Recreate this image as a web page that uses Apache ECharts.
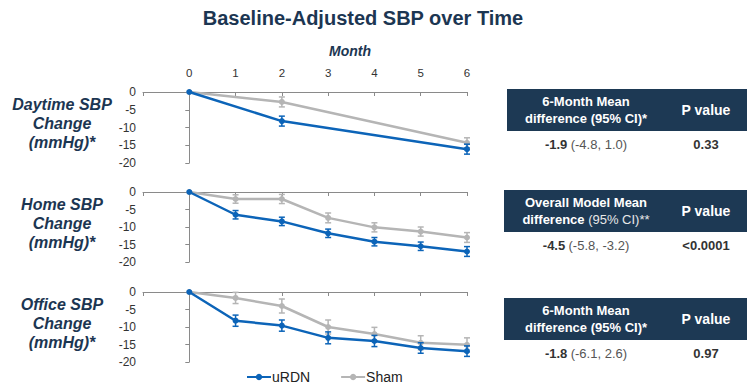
<!DOCTYPE html>
<html>
<head>
<meta charset="utf-8">
<script src="https://cdn.jsdelivr.net/npm/echarts@6/dist/echarts.min.js"></script>
<style>html,body{margin:0;padding:0;background:#fff}#c{width:749px;height:386px}</style>
</head>
<body>
<div id="c"></div>
<script>
// ---- data ----
const monthTicks = [0, 1, 2, 3, 4, 5, 6];
const daytimeMonths = [0, 2, 6];
const daytimeURDN = [0, -8.2, -16.1];
const daytimeSham = [0, -2.8, -14.3];
const daytimeErrURDN = [0, 1.4, 1.4];
const daytimeErrSham = [0, 1.4, 1.4];
const allMonths = [0, 1, 2, 3, 4, 5, 6];
const homeURDN = [0, -6.5, -8.4, -11.8, -14.2, -15.5, -17.0];
const homeSham = [0, -2.0, -2.0, -7.4, -10.1, -11.3, -13.0];
const homeErrURDN = [0, 1.2, 1.2, 1.2, 1.2, 1.2, 1.4];
const homeErrSham = [0, 1.2, 1.3, 1.4, 1.3, 1.3, 1.4];
const officeURDN = [0, -8.2, -9.6, -13.1, -14.0, -16.0, -16.9];
const officeSham = [0, -1.7, -4.0, -10.0, -12.0, -14.5, -15.1];
const officeErrURDN = [0, 1.6, 1.6, 1.7, 1.6, 1.5, 1.5];
const officeErrSham = [0, 1.6, 2.0, 2.0, 1.9, 2.0, 2.0];
const panelNames = [['Daytime SBP', 'Change', '(mmHg)*'], ['Home SBP', 'Change', '(mmHg)*'], ['Office SBP', 'Change', '(mmHg)*']];
const tableHeads = [
  ['6-Month Mean', 'difference (95% CI)*', true],
  ['Overall Model Mean', 'difference (95% CI)**', false],
  ['6-Month Mean', 'difference (95% CI)*', true]
];
const tableEst = [['-1.9', '(-4.8, 1.0)', '0.33'], ['-4.5', '(-5.8, -3.2)', '<0.0001'], ['-1.8', '(-6.1, 2.6)', '0.97']];

// ---- style ----
const FONT = '"Liberation Sans", Arial, sans-serif';
const NAVY = '#1c3652';
const BLUE = '#0c64b8';
const GRAY = '#b5b5b5';
const AXIS = '#8a8a8a';

const panels = [
  { months: daytimeMonths, u: daytimeURDN, s: daytimeSham, eu: daytimeErrURDN, es: daytimeErrSham },
  { months: allMonths, u: homeURDN, s: homeSham, eu: homeErrURDN, es: homeErrSham },
  { months: allMonths, u: officeURDN, s: officeSham, eu: officeErrURDN, es: officeErrSham }
];
const gridTops = [92, 192, 292];
const gridH = [71, 70, 70];

const grids = [], xAxes = [], yAxes = [], series = [], graphics = [];

function errSeries(i, months, vals, errs, color) {
  return {
    type: 'custom', xAxisIndex: i, yAxisIndex: i, z: color === GRAY ? 4 : 6,
    data: months.map((m, k) => [m, vals[k], errs[k]]),
    renderItem: function (params, api) {
      const x = api.value(0), y = api.value(1), e = api.value(2);
      if (!e) return null;
      const top = api.coord([x, y + e]);
      const bot = api.coord([x, y - e]);
      const w = 3;
      const st = { stroke: color, lineWidth: 1.5 };
      return {
        type: 'group', children: [
          { type: 'line', shape: { x1: top[0], y1: top[1], x2: bot[0], y2: bot[1] }, style: st },
          { type: 'line', shape: { x1: top[0] - w, y1: top[1], x2: top[0] + w, y2: top[1] }, style: st },
          { type: 'line', shape: { x1: bot[0] - w, y1: bot[1], x2: bot[0] + w, y2: bot[1] }, style: st }
        ]
      };
    },
    silent: true
  };
}

panels.forEach((p, i) => {
  grids.push({ left: 143, top: gridTops[i], width: 324, height: gridH[i] });
  xAxes.push({
    type: 'value', gridIndex: i, position: 'top', min: -1, max: 6, interval: 1,
    axisLine: { show: true, lineStyle: { color: AXIS, width: 1 } },
    axisTick: { show: true, inside: true, length: 4, lineStyle: { color: AXIS } },
    splitLine: { show: false },
    axisLabel: {
      show: i === 0, margin: 13, fontSize: 11.5, color: '#333', fontFamily: FONT,
      formatter: v => (monthTicks.indexOf(v) >= 0 ? String(v) : '')
    }
  });
  yAxes.push({
    type: 'value', gridIndex: i, min: -20, max: 0, interval: 5,
    axisLine: { show: true, lineStyle: { color: AXIS, width: 1 } },
    axisTick: { show: true, length: 4, lineStyle: { color: AXIS } },
    splitLine: { show: false },
    axisLabel: { fontSize: 12, color: '#333', margin: 7, fontFamily: FONT }
  });
  series.push(errSeries(i, p.months, p.u, p.eu, BLUE));
  series.push({
    name: 'uRDN', type: 'line', xAxisIndex: i, yAxisIndex: i, z: 5,
    data: p.months.map((m, k) => [m, p.u[k]]),
    symbol: 'circle', symbolSize: 6, lineStyle: { color: BLUE, width: 2.5 },
    itemStyle: { color: BLUE }, showSymbol: true
  });
  series.push(errSeries(i, p.months, p.s, p.es, GRAY));
  series.push({
    name: 'Sham', type: 'line', xAxisIndex: i, yAxisIndex: i, z: 3,
    data: p.months.map((m, k) => [m, p.s[k]]),
    symbol: 'circle', symbolSize: 6, lineStyle: { color: GRAY, width: 2.5 },
    itemStyle: { color: GRAY }, showSymbol: true
  });

  // panel y-name
  const cy = gridTops[i] + gridH[i] / 2 - 4;
  graphics.push({
    type: 'text', x: 62, y: cy,
    style: {
      text: panelNames[i].join('\n'), align: 'center', verticalAlign: 'middle',
      font: 'italic bold 16px ' + FONT, fill: NAVY, lineHeight: 19
    }
  });

  // table
  const tTop = [89, 190, 298][i];
  const tLeft = i === 0 ? 507 : 504;
  graphics.push({ type: 'rect', shape: { x: tLeft, y: tTop, width: 747 - tLeft, height: 42 }, style: { fill: '#1d3954' } });
  const h = tableHeads[i];
  graphics.push({
    type: 'text', x: 586, y: tTop + 21,
    style: {
      text: '{b|' + h[0] + '}\n{b|difference }' + (h[2] ? '{b|(95% CI)*}' : '{n|(95% CI)**}'),
      align: 'center', verticalAlign: 'middle',
      rich: {
        b: { fontFamily: FONT, fontSize: 13, fontWeight: 'bold', fill: '#fff', lineHeight: 17 },
        n: { fontFamily: FONT, fontSize: 13, fill: '#e8e8e8', lineHeight: 17 }
      }
    }
  });
  graphics.push({
    type: 'text', x: 706, y: tTop + 21,
    style: { text: 'P value', align: 'center', verticalAlign: 'middle', font: 'bold 14px ' + FONT, fill: '#fff' }
  });
  const e = tableEst[i];
  graphics.push({
    type: 'text', x: 586, y: tTop + 55,
    style: {
      text: '{b|' + e[0] + '} {n|' + e[1] + '}', align: 'center', verticalAlign: 'middle',
      rich: {
        b: { fontFamily: FONT, fontSize: 13, fontWeight: 'bold', fill: '#333' },
        n: { fontFamily: FONT, fontSize: 13, fill: '#555' }
      }
    }
  });
  graphics.push({
    type: 'text', x: 706, y: tTop + 55,
    style: { text: e[2], align: 'center', verticalAlign: 'middle', font: 'bold 13px ' + FONT, fill: '#333' }
  });
});

graphics.push({
  type: 'text', x: 350, y: 51,
  style: { text: 'Month', align: 'center', verticalAlign: 'middle', font: 'italic bold 14px ' + FONT, fill: NAVY }
});

const chart = echarts.init(document.getElementById('c'), null, { renderer: 'svg' });
chart.setOption({
  animation: false,
  textStyle: { fontFamily: FONT },
  title: {
    text: 'Baseline-Adjusted SBP over Time', left: 358, top: 3, textAlign: 'center',
    textStyle: { fontSize: 20, fontWeight: 'bold', color: NAVY, fontFamily: FONT }
  },
  legend: {
    data: ['uRDN', 'Sham'], left: 246, top: 370, padding: 0, itemWidth: 24, itemHeight: 8, itemGap: 30,
    textStyle: { fontSize: 14, color: '#222', fontFamily: FONT, padding: [0, 0, 0, -4] }
  },
  grid: grids, xAxis: xAxes, yAxis: yAxes, series: series, graphic: graphics
});
</script>
</body>
</html>
